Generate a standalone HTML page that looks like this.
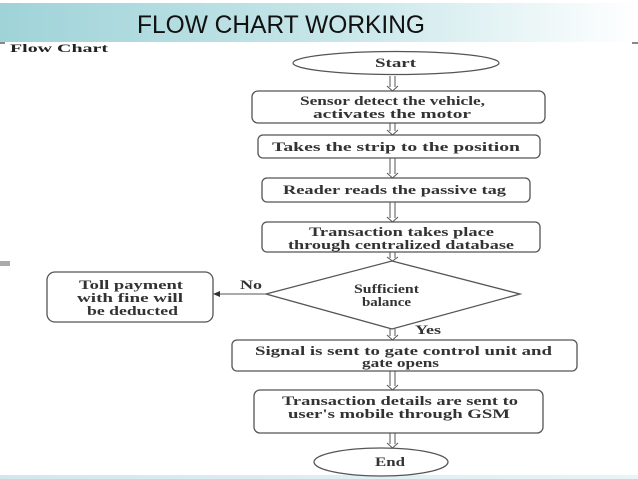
<!DOCTYPE html>
<html><head><style>
html,body{margin:0;padding:0;background:#fff;width:638px;height:479px;overflow:hidden}
svg text{font-family:"Liberation Serif",serif;font-weight:bold;fill:#333;font-size:12.5px}
</style></head><body>
<svg width="638" height="479" viewBox="0 0 638 479">
<defs>
<linearGradient id="g" x1="0" x2="1"><stop offset="0" stop-color="#9fd3d8"/><stop offset="0.55" stop-color="#c9e7ea"/><stop offset="1" stop-color="#ffffff"/></linearGradient>
<linearGradient id="g2" x1="0" x2="1"><stop offset="0" stop-color="#cfe8ee"/><stop offset="1" stop-color="#e8f4f6"/></linearGradient>
</defs>
<rect x="0" y="3" width="638" height="39" fill="url(#g)"/>
<rect x="0" y="475" width="638" height="4" fill="url(#g2)"/>
<text x="137" y="33" style="font-family:'Liberation Sans',sans-serif;font-weight:normal;font-size:25px;fill:#111" textLength="288" lengthAdjust="spacingAndGlyphs">FLOW CHART WORKING</text>
<text x="10" y="52" style="font-size:11.5px;fill:#222" textLength="98" lengthAdjust="spacingAndGlyphs">Flow Chart</text>
<rect x="0" y="42" width="5" height="2" fill="#888"/>
<rect x="632" y="42" width="6" height="2" fill="#888"/>
<rect x="0" y="261" width="10" height="5" fill="#aaa"/>
<g fill="#fff" stroke="#555" stroke-width="1.3">
<ellipse cx="396" cy="63" rx="103" ry="11.5"/>
<rect x="252" y="91" width="293" height="32" rx="6"/>
<rect x="258" y="135" width="282" height="23" rx="5"/>
<rect x="262" y="178" width="268" height="24" rx="5"/>
<rect x="262" y="222" width="278" height="30" rx="5"/>
<polygon points="392,261 520,294 392,329 266,294"/>
<rect x="47" y="272" width="166" height="50" rx="8"/>
<rect x="232" y="340" width="345" height="31" rx="5"/>
<rect x="254" y="390" width="289" height="43" rx="6"/>
<ellipse cx="381" cy="462" rx="67" ry="14"/>
</g>
<g stroke="#555" stroke-width="1" fill="none">
<path d="M390,76 V87 M395,76 V87 M387,86 L392.5,91 L398,86"/>
<path d="M390,123 V131 M395,123 V131 M387,130 L392.5,135 L398,130"/>
<path d="M390,158 V174 M395,158 V174 M387,173 L392.5,178 L398,173"/>
<path d="M390,202 V218 M395,202 V218 M387,217 L392.5,222 L398,217"/>
<path d="M390,252 V258 M395,252 V258 M387,257 L392.5,261 L398,257"/>
<path d="M390,329 V336 M395,329 V336 M387,335 L392.5,340 L398,335"/>
<path d="M390,371 V386 M395,371 V386 M387,385 L392.5,390 L398,385"/>
<path d="M390,433 V444 M395,433 V444 M387,443 L392.5,448 L398,443"/>
<path d="M266,294 H218"/>
</g>
<polygon points="213,294 220,291 220,297" fill="#333"/>
<g lengthAdjust="spacingAndGlyphs">
<text x="375" y="67" textLength="41" lengthAdjust="spacingAndGlyphs">Start</text>
<text x="300" y="105" textLength="185" lengthAdjust="spacingAndGlyphs">Sensor detect the vehicle,</text>
<text x="313" y="118" textLength="158" lengthAdjust="spacingAndGlyphs">activates the motor</text>
<text x="272" y="151" textLength="248" lengthAdjust="spacingAndGlyphs">Takes the strip to the position</text>
<text x="283" y="194" textLength="223" lengthAdjust="spacingAndGlyphs">Reader reads the passive tag</text>
<text x="309" y="236" textLength="185" lengthAdjust="spacingAndGlyphs">Transaction takes place</text>
<text x="288" y="249" textLength="226" lengthAdjust="spacingAndGlyphs">through centralized database</text>
<text x="354" y="293" textLength="65" lengthAdjust="spacingAndGlyphs">Sufficient</text>
<text x="362" y="306" textLength="49" lengthAdjust="spacingAndGlyphs">balance</text>
<text x="79" y="289" textLength="104" lengthAdjust="spacingAndGlyphs">Toll payment</text>
<text x="77" y="302" textLength="106" lengthAdjust="spacingAndGlyphs">with fine will</text>
<text x="87" y="315" textLength="91" lengthAdjust="spacingAndGlyphs">be deducted</text>
<text x="255" y="355" textLength="297" lengthAdjust="spacingAndGlyphs">Signal is sent to gate control unit and</text>
<text x="362" y="367" textLength="77" lengthAdjust="spacingAndGlyphs">gate opens</text>
<text x="282" y="405" textLength="236" lengthAdjust="spacingAndGlyphs">Transaction details are sent to</text>
<text x="288" y="418" textLength="222" lengthAdjust="spacingAndGlyphs">user's mobile through GSM</text>
<text x="375" y="466" textLength="30" lengthAdjust="spacingAndGlyphs">End</text>
<text x="240" y="289" textLength="22" lengthAdjust="spacingAndGlyphs">No</text>
<text x="415" y="334" textLength="26" lengthAdjust="spacingAndGlyphs">Yes</text>
</g>
</svg>
</body></html>
